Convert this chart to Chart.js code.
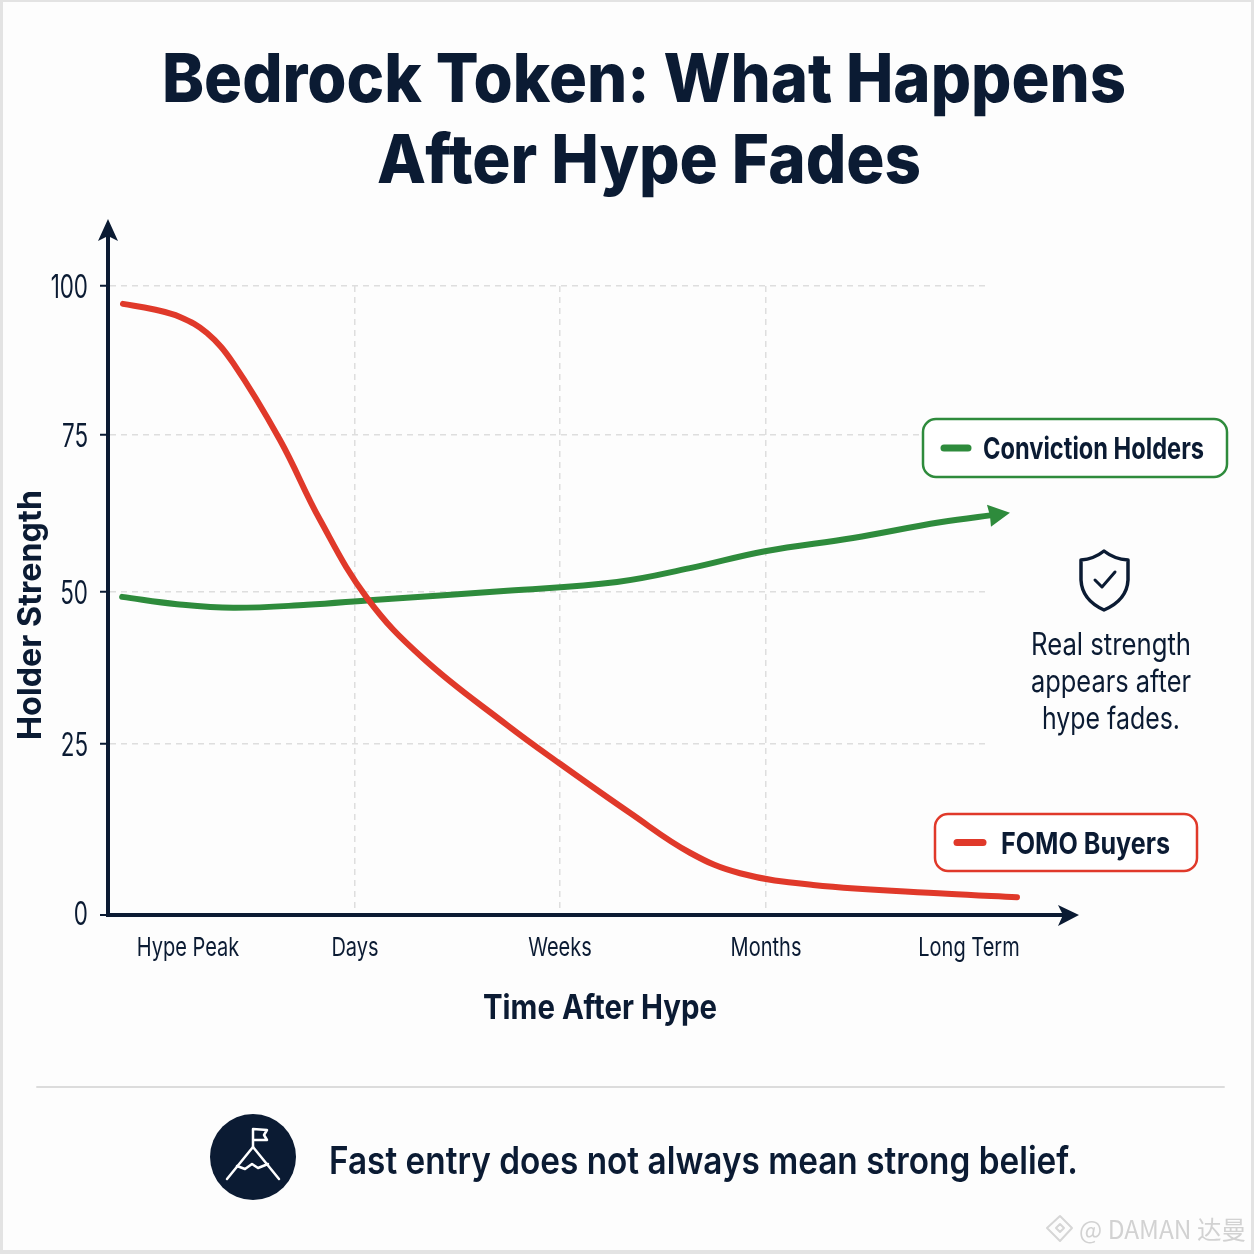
<!DOCTYPE html>
<html>
<head>
<meta charset="utf-8">
<title>Bedrock Token: What Happens After Hype Fades</title>
<script src="https://cdn.jsdelivr.net/npm/chart.js"></script>
<style>
  html, body { margin: 0; padding: 0; background: #fdfdfd; }
  canvas { display: block; }
</style>
</head>
<body>
<canvas id="holderChart" width="1254" height="1254"></canvas>
<script>
// Values. Time: Days = 1, Weeks = 2, Months = 3, Long Term = 4
const timeTicks = [0.18, 0.995, 1.995, 3, 3.99];
const timeLabels = ['Hype Peak', 'Days', 'Weeks', 'Months', 'Long Term'];
const strengthTicks = [0, 25, 50, 75, 100];
// the printed axis is not evenly spaced, this is where each tick sits (% of axis height)
const strengthTickHeights = [0, 27.19, 51.35, 76.31, 100];

const fomoTime = [-0.137, 0.01, 0.141, 0.273, 0.4, 0.629, 0.824, 1.054, 1.327, 1.737, 1.995, 2.337, 2.629, 2.873, 3.229, 3.883, 4.224];
const fomoStrength = [97.0, 96.1, 94.8, 92.1, 87.1, 74.2, 61.5, 49.0, 39.1, 28.1, 22.1, 14.9, 9.1, 6.1, 4.4, 3.1, 2.6];

const convictionTime = [-0.141, 0.127, 0.4, 0.761, 1.083, 1.737, 2.273, 2.629, 2.995, 3.424, 3.849, 4.141];
const convictionStrength = [49.2, 48.0, 47.4, 47.9, 48.7, 50.2, 51.6, 53.8, 56.5, 58.6, 61.1, 62.4];

const NAVY = '#0b1b33';
const GREEN = '#2e8b3c';
const RED = '#e0392a';
const GRID = '#dedede';
const SANS = 'Inter, "Noto Sans", sans-serif';

// The tick labels in the picture are narrower than any installed face, squeeze them
class NarrowLabelScale extends Chart.LinearScale {
    getLabelItems(chartArea) {
        const items = super.getLabelItems(chartArea);
        const squeeze = this.axis === 'x' ? 0.77 : 0.7;
        const ctx = this.ctx;
        ctx.save();
        items.forEach(item => {
            if (item.options.maxWidth) return;
            ctx.font = item.font.string;
            item.options.maxWidth = ctx.measureText(item.label).width * squeeze;
            // strength labels sit a little below their grid lines
            if (this.axis === 'y' && item.label !== '0') item.options.translation[1] += 2;
        });
        ctx.restore();
        return items;
    }
}
NarrowLabelScale.id = 'narrowLabel';
NarrowLabelScale.defaults = Chart.LinearScale.defaults;

// Same, and bends between the printed ticks of the strength axis
class PrintedScale extends NarrowLabelScale {
    getPixelForValue(value) {
        let i = 0;
        while (i < strengthTicks.length - 2 && value > strengthTicks[i + 1]) i++;
        const f = (value - strengthTicks[i]) / (strengthTicks[i + 1] - strengthTicks[i]);
        const h = strengthTickHeights[i] + f * (strengthTickHeights[i + 1] - strengthTickHeights[i]);
        return super.getPixelForValue(h);
    }
}
PrintedScale.id = 'printed';
PrintedScale.defaults = Chart.LinearScale.defaults;
Chart.register(NarrowLabelScale, PrintedScale);

function label(ctx, text, x, y, font, color, align, maxWidth) {
    ctx.font = font;
    ctx.fillStyle = color;
    ctx.textAlign = align || 'center';
    ctx.textBaseline = 'middle';
    ctx.fillText(text, x, y, maxWidth);
}

function polyline(ctx, pts) {
    ctx.beginPath();
    pts.forEach((p, i) => i ? ctx.lineTo(p[0], p[1]) : ctx.moveTo(p[0], p[1]));
}

function chip(ctx, x, y, w, h, color, text, textX, textW, dashX, dashW) {
    ctx.beginPath();
    ctx.roundRect(x, y, w, h, 13);
    ctx.fillStyle = '#ffffff';
    ctx.fill();
    ctx.strokeStyle = color;
    ctx.lineWidth = 2.5;
    ctx.stroke();
    ctx.beginPath();
    ctx.moveTo(dashX, y + h / 2);
    ctx.lineTo(dashX + dashW, y + h / 2);
    ctx.lineWidth = 7;
    ctx.lineCap = 'round';
    ctx.stroke();
    label(ctx, text, textX, y + h / 2 + 2, '700 30px ' + SANS, NAVY, 'left', textW);
}

const pageBackground = {
    id: 'pageBackground',
    beforeDraw(chart) {
        const { ctx, width, height } = chart;
        ctx.save();
        ctx.fillStyle = '#fdfdfd';
        ctx.fillRect(0, 0, width, height);
        ctx.fillStyle = '#e3e3e3';
        ctx.fillRect(0, 0, 3, height);
        ctx.fillRect(width - 3, 0, 3, height);
        ctx.fillRect(0, 0, width, 2);
        ctx.fillRect(0, height - 4, width, 4);
        ctx.restore();
    }
};

const annotations = {
    id: 'annotations',
    afterDatasetsDraw(chart) {
        const { ctx, chartArea } = chart;
        ctx.save();
        ctx.lineJoin = 'round';

        // axis extensions and arrow heads
        const left = chartArea.left, bottom = chartArea.bottom;
        ctx.strokeStyle = NAVY;
        ctx.fillStyle = NAVY;
        ctx.lineWidth = 4;
        polyline(ctx, [[left, chartArea.top], [left, 235]]);
        ctx.stroke();
        polyline(ctx, [[left - 10, 241], [left, 219], [left + 10, 241], [left, 236]]);
        ctx.closePath();
        ctx.fill();
        polyline(ctx, [[chartArea.right - 1, bottom], [1065, bottom]]);
        ctx.stroke();
        polyline(ctx, [[1058, bottom - 10], [1079, bottom], [1058, bottom + 11], [1063, bottom]]);
        ctx.closePath();
        ctx.fill();

        // green arrow head past the last point
        const pts = chart.getDatasetMeta(1).data;
        const end = pts[pts.length - 1];
        polyline(ctx, [[end.x - 13, end.y - 9.5], [end.x + 10, end.y - 1.5], [end.x - 9, end.y + 12.5], [end.x - 10, end.y + 1.5]]);
        ctx.closePath();
        ctx.fillStyle = GREEN;
        ctx.fill();

        // titles
        label(ctx, 'Bedrock Token: What Happens', 644, 82, '800 68px ' + SANS, NAVY, 'center', 964);
        label(ctx, 'After Hype Fades', 649, 163, '800 68px ' + SANS, NAVY, 'center', 544);
        label(ctx, 'Time After Hype', 600, 1009, '700 34px ' + SANS, NAVY, 'center', 234);
        ctx.save();
        ctx.translate(31, 615);
        ctx.rotate(-Math.PI / 2);
        label(ctx, 'Holder Strength', 0, 0, '700 33px ' + SANS, NAVY, 'center', 250);
        ctx.restore();

        // direct labels
        chip(ctx, 923, 419, 304, 58, GREEN, 'Conviction Holders', 983, 221, 944, 24);
        chip(ctx, 935, 814, 262, 57, RED, 'FOMO Buyers', 1001, 169, 957, 26);

        // shield
        ctx.strokeStyle = NAVY;
        ctx.lineWidth = 3.5;
        ctx.beginPath();
        ctx.moveTo(1104, 551);
        ctx.quadraticCurveTo(1094, 559, 1081, 560);
        ctx.lineTo(1081, 580);
        ctx.quadraticCurveTo(1082, 600, 1104, 610);
        ctx.quadraticCurveTo(1127, 600, 1128, 580);
        ctx.lineTo(1128, 560);
        ctx.quadraticCurveTo(1114, 559, 1104, 551);
        ctx.closePath();
        ctx.stroke();
        ctx.lineWidth = 3;
        polyline(ctx, [[1095, 580], [1102, 587], [1115, 572]]);
        ctx.stroke();

        label(ctx, 'Real strength', 1111, 646, '400 31px ' + SANS, NAVY, 'center', 160);
        label(ctx, 'appears after', 1111, 683, '400 31px ' + SANS, NAVY, 'center', 160);
        label(ctx, 'hype fades.', 1111, 720, '400 31px ' + SANS, NAVY, 'center', 138);

        // footer
        ctx.strokeStyle = '#dcdcdc';
        ctx.lineWidth = 2;
        polyline(ctx, [[37, 1087], [1224, 1087]]);
        ctx.stroke();
        ctx.beginPath();
        ctx.arc(253, 1157, 43, 0, Math.PI * 2);
        ctx.fillStyle = NAVY;
        ctx.fill();
        ctx.strokeStyle = '#ffffff';
        ctx.lineWidth = 2.5;
        polyline(ctx, [[227, 1179], [253, 1147], [279, 1179]]);
        ctx.stroke();
        polyline(ctx, [[237, 1166], [245, 1169], [252, 1164], [258, 1168], [268, 1164]]);
        ctx.stroke();
        polyline(ctx, [[253, 1147], [253, 1129], [267, 1130], [264, 1135], [267, 1140], [253, 1140]]);
        ctx.stroke();
        label(ctx, 'Fast entry does not always mean strong belief.', 329, 1163, '600 38px ' + SANS, NAVY, 'left', 749);

        // watermark
        ctx.strokeStyle = '#d6d6d6';
        ctx.lineWidth = 2;
        polyline(ctx, [[1060, 1216], [1072, 1228], [1060, 1241], [1047, 1228]]);
        ctx.closePath();
        ctx.stroke();
        polyline(ctx, [[1060, 1224], [1064, 1228], [1060, 1232], [1056, 1228]]);
        ctx.closePath();
        ctx.stroke();
        label(ctx, '@ DAMAN 达曼', 1079, 1229, '400 25px "Noto Sans CJK SC", "Noto Sans", sans-serif', '#d2d2d2', 'left', 167);
        ctx.restore();
    }
};

const toPoints = (xs, ys) => xs.map((x, i) => ({ x: x, y: ys[i] }));

new Chart(document.getElementById('holderChart').getContext('2d'), {
    type: 'line',
    data: {
        datasets: [
            {
                label: 'FOMO Buyers',
                data: toPoints(fomoTime, fomoStrength),
                borderColor: RED,
                borderWidth: 6,
                borderCapStyle: 'round',
                tension: 0.4,
                capBezierPoints: false,
                pointRadius: 0,
                clip: false
            },
            {
                label: 'Conviction Holders',
                data: toPoints(convictionTime, convictionStrength),
                borderColor: GREEN,
                borderWidth: 6,
                borderCapStyle: 'round',
                tension: 0.4,
                capBezierPoints: false,
                pointRadius: 0,
                clip: false
            }
        ]
    },
    plugins: [pageBackground, annotations],
    options: {
        responsive: false,
        animation: false,
        layout: { padding: { top: 286, right: 269, bottom: 279, left: 0 } },
        plugins: {
            legend: { display: false },
            tooltip: { enabled: false }
        },
        scales: {
            x: {
                type: 'narrowLabel',
                min: -0.21,
                max: 4.068,
                afterBuildTicks: scale => { scale.ticks = timeTicks.map(v => ({ value: v })); },
                afterFit: scale => { scale.height = 60; },
                border: { color: NAVY, width: 4, dash: [6, 5] },
                grid: {
                    drawTicks: false,
                    lineWidth: 1.5,
                    color: ctx => (ctx.tick && ctx.tick.value >= 0.9 && ctx.tick.value < 3.5) ? GRID : 'rgba(0,0,0,0)'
                },
                ticks: {
                    autoSkip: false,
                    maxRotation: 0,
                    padding: 18,
                    color: NAVY,
                    font: { family: SANS, size: 26 },
                    callback: value => timeLabels[timeTicks.indexOf(value)]
                }
            },
            y: {
                type: 'printed',
                min: 0,
                max: 100,
                afterBuildTicks: scale => { scale.ticks = strengthTicks.map(v => ({ value: v })); },
                afterFit: scale => { scale.width = 108; },
                border: { color: NAVY, width: 4, dash: [6, 5] },
                grid: {
                    lineWidth: ctx => (ctx.tick && ctx.tick.value === 0) ? 0 : 1.5,
                    color: GRID,
                    tickColor: NAVY,
                    tickWidth: 2,
                    tickLength: 8,
                    tickBorderDash: []
                },
                ticks: {
                    padding: 12,
                    color: NAVY,
                    font: { family: SANS, size: 32 }
                }
            }
        }
    }
});
</script>
</body>
</html>
